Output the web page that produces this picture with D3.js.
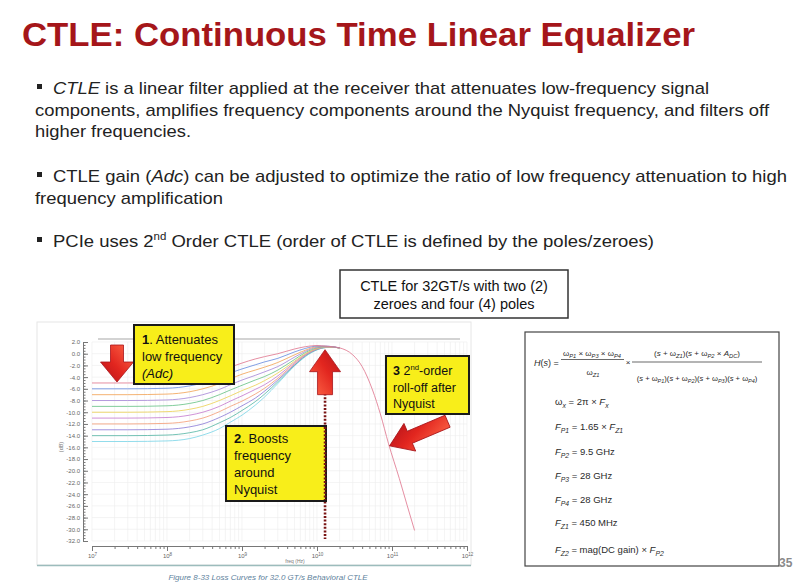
<!DOCTYPE html>
<html>
<head>
<meta charset="utf-8">
<script src="https://cdn.jsdelivr.net/npm/d3@7"></script>
<style>
  body { margin: 0; background: #fff; }
  svg { display: block; font-family: "Liberation Sans", Arial, sans-serif; }
</style>
</head>
<body>
<div id="slide"></div>
<script>
const W = 807, H = 583;

// ---- data ----
const lowFreqHz = [1e7, 3e7, 1e8, 2e8, 3e8, 5e8, 7e8, 1e9, 1.5e9, 2e9, 3e9, 5e9, 7e9, 1e10, 1.3e10, 1.6e10];
const adcLevels = [-5, -6, -7, -8, -9, -10, -11, -12, -13, -14, -15];
const adcM5  = [-5.0, -5.0, -4.9, -4.5, -4.0, -3.1, -2.3, -1.6, -0.9, -0.5, 0.0, 0.8, 1.2, 1.4, 1.3, 1.2];
const adcM6  = [-6.0, -6.0, -5.9, -5.5, -5.0, -4.1, -3.3, -2.6, -1.9, -1.4, -0.8, 0.3, 0.9, 1.3, 1.3, 1.2];
const adcM7  = [-7.0, -7.0, -6.9, -6.5, -6.0, -5.1, -4.3, -3.5, -2.8, -2.3, -1.5, -0.2, 0.6, 1.2, 1.25, 1.15];
const adcM8  = [-8.0, -8.0, -7.9, -7.5, -7.0, -6.1, -5.3, -4.5, -3.7, -3.1, -2.2, -0.6, 0.4, 1.1, 1.2, 1.15];
const adcM9  = [-9.0, -9.0, -8.9, -8.5, -8.0, -7.0, -6.2, -5.4, -4.5, -3.9, -2.8, -1.0, 0.2, 1.0, 1.2, 1.15];
const adcM10 = [-10.0, -10.0, -9.9, -9.5, -9.0, -8.0, -7.2, -6.3, -5.4, -4.6, -3.3, -1.3, 0.0, 0.9, 1.15, 1.1];
const adcM11 = [-11.0, -11.0, -10.9, -10.5, -10.0, -9.0, -8.1, -7.2, -6.1, -5.3, -3.8, -1.5, -0.1, 0.85, 1.1, 1.1];
const adcM12 = [-12.0, -12.0, -11.9, -11.5, -11.0, -9.9, -9.0, -8.1, -6.9, -5.9, -4.2, -1.7, -0.2, 0.8, 1.1, 1.1];
const adcM13 = [-13.0, -13.0, -12.9, -12.5, -12.0, -10.9, -10.0, -8.9, -7.6, -6.4, -4.5, -1.9, -0.3, 0.75, 1.1, 1.1];
const adcM14 = [-14.0, -14.0, -13.9, -13.5, -13.0, -11.8, -10.9, -9.7, -8.2, -6.9, -4.8, -2.0, -0.4, 0.7, 1.05, 1.1];
const adcM15 = [-15.0, -15.0, -14.9, -14.5, -13.9, -12.8, -11.7, -10.5, -8.8, -7.4, -5.1, -2.1, -0.5, 0.65, 1.05, 1.1];
// all curves share the roll-off above the peak
const rolloffHz = [2e10, 3e10, 4e10, 5.5e10, 7e10, 9e10, 1.25e11, 1.6e11, 2e11];
const rolloffDb = [1.0, -0.2, -2.2, -6.2, -10.3, -15.4, -21.3, -26.0, -30.2];
const curveColors = ["#e07a92", "#6b8ee0", "#f2a65a", "#a98bd8", "#6cc48a", "#ecd25a",
                     "#c77fd0", "#f4a07a", "#8f7fd8", "#5cb8a8", "#7fd6e8"];
const yTicks = [2, 0, -2, -4, -6, -8, -10, -12, -14, -16, -18, -20, -22, -24, -26, -28, -30, -32];
const xTicks = [1e7, 1e8, 1e9, 1e10, 1e11, 1e12];
const nyquistHz = 1.28e10;

const lowCurves = [adcM5, adcM6, adcM7, adcM8, adcM9, adcM10, adcM11, adcM12, adcM13, adcM14, adcM15];

const svg = d3.select("#slide").append("svg")
    .attr("width", W).attr("height", H);

// small helper for text with italic / bold / sub / sup runs
// flags: I italic, B bold, _ subscript, ^ superscript
function rich(sel, x, y, parts, size, opts) {
    opts = opts || {};
    const t = sel.append("text")
        .attr("x", x).attr("y", y)
        .attr("font-size", size)
        .attr("fill", opts.fill || "#222")
        .attr("text-anchor", opts.anchor || "start");
    if (opts.family) t.attr("font-family", opts.family);
    let shift = 0;
    parts.forEach(p => {
        const s = typeof p === "string" ? p : p[0];
        const f = typeof p === "string" ? "" : p[1];
        const sp = t.append("tspan").text(s);
        let target = 0;
        if (f.includes("_")) { target = size * 0.28; sp.attr("font-size", size * 0.72); }
        if (f.includes("^")) { target = -size * 0.42; sp.attr("font-size", size * 0.62); }
        if (target !== shift) { sp.attr("dy", target - shift); shift = target; }
        if (f.includes("I")) sp.attr("font-style", "italic");
        if (f.includes("B")) sp.attr("font-weight", "bold");
    });
    if (opts.len) t.attr("textLength", opts.len).attr("lengthAdjust", "spacingAndGlyphs");
    return t;
}

// ---- title and bullets ----
svg.append("text")
    .attr("x", 22).attr("y", 46)
    .attr("font-size", 33).attr("font-weight", "bold")
    .attr("fill", "#a5161a")
    .attr("textLength", 673).attr("lengthAdjust", "spacingAndGlyphs")
    .text("CTLE: Continuous Time Linear Equalizer");

const bodyFont = "'Liberation Sans Narrow', 'Liberation Sans', Arial, sans-serif";
const bullets = svg.append("g");
[94, 182, 247].forEach(by => {
    bullets.append("rect").attr("x", 37).attr("y", by - 10).attr("width", 5).attr("height", 5).attr("fill", "#222");
});
rich(bullets, 53, 94, [["CTLE", "I"], " is a linear filter applied at the receiver that attenuates low-frequency signal"], 17, {family: bodyFont, len: 656});
rich(bullets, 35, 116, ["components, amplifies frequency components around the Nyquist frequency, and filters off"], 17, {family: bodyFont, len: 734});
rich(bullets, 35, 137, ["higher frequencies."], 17, {family: bodyFont, len: 156});
rich(bullets, 53, 182, ["CTLE gain (", ["Adc", "I"], ") can be adjusted to optimize the ratio of low frequency attenuation to high"], 17, {family: bodyFont, len: 734});
rich(bullets, 35, 204, ["frequency amplification"], 17, {family: bodyFont, len: 188});
rich(bullets, 53, 247, ["PCIe uses 2", ["nd", "^"], " Order CTLE (order of CTLE is defined by the poles/zeroes)"], 17, {family: bodyFont, len: 601});

// ---- callout box above the plot ----
svg.append("rect").attr("x", 340).attr("y", 270).attr("width", 228).attr("height", 48)
    .attr("fill", "#fff").attr("stroke", "#333").attr("stroke-width", 1.5);
rich(svg, 454, 291, ["CTLE for 32GT/s with two (2)"], 14.5, {anchor: "middle", fill: "#111"});
rich(svg, 454, 309, ["zeroes and four (4) poles"], 14.5, {anchor: "middle", fill: "#111"});

// ---- plot ----
const x = d3.scaleLog().domain([1e7, 1e12]).range([92, 467]);
const y = d3.scaleLinear().domain([-32, 2]).range([541, 342]);

svg.append("rect").attr("x", 37).attr("y", 322).attr("width", 434).attr("height", 243)
    .attr("fill", "none").attr("stroke", "#e6e6e6");
svg.append("line").attr("x1", 37).attr("x2", 471).attr("y1", 565.5).attr("y2", 565.5)
    .attr("stroke", "#9cbcbc").attr("stroke-width", 1.5);

const grid = svg.append("g").attr("stroke", "#ececec").attr("stroke-width", 0.6);
grid.selectAll(".vg").data(x.ticks()).join("line")
    .attr("x1", d => x(d)).attr("x2", d => x(d))
    .attr("y1", y(2)).attr("y2", y(-32));
grid.selectAll(".hg").data(yTicks).join("line")
    .attr("x1", x(1e7)).attr("x2", x(1e12))
    .attr("y1", d => y(d)).attr("y2", d => y(d));

svg.append("line").attr("x1", 98).attr("x2", 460).attr("y1", 339).attr("y2", 339)
    .attr("stroke", "#c4c4c4").attr("stroke-width", 1.3);

// y axis (ticks point into the plot)
svg.append("g").attr("transform", "translate(83,0)")
    .call(d3.axisLeft(y).tickValues(yTicks).tickSizeInner(-5).tickSizeOuter(0)
        .tickPadding(3).tickFormat(d => d.toFixed(1)));
svg.append("g").attr("transform", "translate(83,0)")
    .call(d3.axisLeft(y).tickValues(d3.range(-32, 2.01, 0.5)).tickSizeInner(-2.5).tickSizeOuter(0).tickFormat(""))
    .select(".domain").remove();

// x axis
const xAxis = svg.append("g").attr("transform", "translate(0,546)")
    .call(d3.axisBottom(x).tickValues(xTicks).tickSizeInner(5).tickSizeOuter(0)
        .tickPadding(3).tickFormat(""));
svg.append("g").attr("transform", "translate(0,546)")
    .call(d3.axisBottom(x).tickValues(x.ticks().filter(d => !xTicks.includes(d))).tickSizeInner(3).tickFormat(""))
    .select(".domain").remove();
xAxis.selectAll(".tick text").each(function(d) {
    const t = d3.select(this);
    t.append("tspan").text("10");
    t.append("tspan").text(Math.round(Math.log10(d))).attr("dy", -2.5).attr("font-size", 4.5);
});

svg.selectAll(".domain, .tick line").attr("stroke", "#777");
svg.selectAll(".tick text").attr("fill", "#666").attr("font-size", 6);

svg.append("text").attr("x", 295).attr("y", 563).attr("font-size", 5).attr("fill", "#777")
    .attr("text-anchor", "middle").text("freq (Hz)");
svg.append("text").attr("transform", "translate(63,447) rotate(-90)").attr("font-size", 5.5)
    .attr("fill", "#777").attr("text-anchor", "middle").text("(dB)");

// curves: lowest gain first so the -5 dB trace sits on top; the shared
// roll-off is drawn once, on the -5 dB trace
const line = d3.line().x(d => x(d[0])).y(d => y(d[1])).curve(d3.curveMonotoneX);
const curveData = lowCurves.map((vals, i) => {
    const tail = i === 0 ? rolloffHz.length : 1;
    return {
        adc: adcLevels[i],
        color: curveColors[i],
        pts: lowFreqHz.map((f, j) => [f, vals[j]])
            .concat(rolloffHz.slice(0, tail).map((f, j) => [f, rolloffDb[j]]))
    };
}).reverse();
svg.append("g").selectAll("path").data(curveData).join("path")
    .attr("d", d => line(d.pts))
    .attr("fill", "none")
    .attr("stroke", d => d.color)
    .attr("stroke-width", 1)
    .attr("stroke-opacity", 0.85);

svg.append("text").attr("x", 268).attr("y", 580).attr("font-size", 8).attr("font-style", "italic")
    .attr("fill", "#5d7f9c").attr("text-anchor", "middle")
    .text("Figure 8-33 Loss Curves for 32.0 GT/s Behavioral CTLE");

// ---- annotations ----
const defs = svg.append("defs");
const grad = defs.append("linearGradient").attr("id", "redGrad")
    .attr("x1", 0).attr("y1", 0).attr("x2", 1).attr("y2", 1);
grad.append("stop").attr("offset", "0%").attr("stop-color", "#ff6a4a");
grad.append("stop").attr("offset", "55%").attr("stop-color", "#e2261f");
grad.append("stop").attr("offset", "100%").attr("stop-color", "#b3121a");

function arrow(tx, ty, angle, len, bodyW, headW, headL) {
    const pts = [[0, 0], [-headL, -headW / 2], [-headL, -bodyW / 2], [-len, -bodyW / 2],
                 [-len, bodyW / 2], [-headL, bodyW / 2], [-headL, headW / 2]];
    svg.append("polygon")
        .attr("points", pts.map(p => p.join(",")).join(" "))
        .attr("transform", `translate(${tx},${ty}) rotate(${angle})`)
        .attr("fill", "url(#redGrad)")
        .attr("stroke", "#a8141a").attr("stroke-width", 0.8);
}

function yellowBox(bx, by, bw, bh) {
    svg.append("rect").attr("x", bx).attr("y", by).attr("width", bw).attr("height", bh)
        .attr("fill", "#f8ee1a").attr("stroke", "#1a1a1a").attr("stroke-width", 2);
}

// Nyquist marker
svg.append("line")
    .attr("x1", x(nyquistHz)).attr("x2", x(nyquistHz))
    .attr("y1", 390).attr("y2", 539)
    .attr("stroke", "#7a1414").attr("stroke-width", 2.6).attr("stroke-dasharray", "2,1.6");

arrow(117, 382, 90, 37, 13, 33, 20);
arrow(x(nyquistHz), y(1.2) + 3, -90, 45, 15, 31, 22);
arrow(x(9e10) + 1, y(-15.4) + 2, 157, 63, 13, 30, 22);

yellowBox(134, 325, 100, 59);
rich(svg, 142, 344, [["1", "B"], ". Attenuates"], 13, {fill: "#111"});
rich(svg, 142, 361, ["low frequency"], 13, {fill: "#111"});
rich(svg, 142, 378, [["(Adc)", "I"]], 13, {fill: "#111"});

yellowBox(226, 426, 100, 75);
rich(svg, 234, 443, [["2", "B"], ". Boosts"], 13, {fill: "#111"});
rich(svg, 234, 460, ["frequency"], 13, {fill: "#111"});
rich(svg, 234, 477, ["around"], 13, {fill: "#111"});
rich(svg, 234, 494, ["Nyquist"], 13, {fill: "#111"});

// the marker shows through the right edge of box 2, as in the slide
svg.append("line")
    .attr("x1", x(nyquistHz)).attr("x2", x(nyquistHz))
    .attr("y1", 427).attr("y2", 500)
    .attr("stroke", "#7a1414").attr("stroke-width", 2.6).attr("stroke-dasharray", "2,1.6");

yellowBox(386, 356, 83, 58);
rich(svg, 393, 375, [["3", "B"], "  2", ["nd", "^"], "-order"], 12.5, {fill: "#111"});
rich(svg, 393, 392, ["roll-off after"], 12.5, {fill: "#111"});
rich(svg, 393, 408, ["Nyquist"], 12.5, {fill: "#111"});

// ---- transfer function panel ----
svg.append("rect").attr("x", 525).attr("y", 332).attr("width", 254).attr("height", 234)
    .attr("fill", "#fff").attr("stroke", "#444").attr("stroke-width", 1.2);
const fx = svg.append("g");
const ink = "#2a2a2a";
rich(fx, 534, 366, [["H", "I"], "(", ["s", "I"], ") ="], 9, {fill: ink});
rich(fx, 592, 356, ["ω", ["P1", "_I"], " × ω", ["P3", "_I"], " × ω", ["P4", "_I"]], 8, {fill: ink, anchor: "middle"});
fx.append("line").attr("x1", 561).attr("x2", 624).attr("y1", 359.5).attr("y2", 359.5).attr("stroke", ink).attr("stroke-width", 0.7);
rich(fx, 593, 375, ["ω", ["Z1", "_I"]], 8, {fill: ink, anchor: "middle"});
rich(fx, 628, 365, ["×"], 8, {fill: ink, anchor: "middle"});
rich(fx, 697, 356, ["(", ["s", "I"], " + ω", ["Z1", "_I"], ")(", ["s", "I"], " + ω", ["P2", "_I"], " × ", ["A", "I"], ["DC", "_I"], ")"], 8, {fill: ink, anchor: "middle"});
fx.append("line").attr("x1", 632).attr("x2", 762).attr("y1", 362).attr("y2", 362).attr("stroke", ink).attr("stroke-width", 0.7);
rich(fx, 697, 381, ["(", ["s", "I"], " + ω", ["P1", "_I"], ")(", ["s", "I"], " + ω", ["P2", "_I"], ")(", ["s", "I"], " + ω", ["P3", "_I"], ")(", ["s", "I"], " + ω", ["P4", "_I"], ")"], 7.6, {fill: ink, anchor: "middle"});

const eqRows = [
    [405, ["ω", ["x", "_I"], " = 2π × ", ["F", "I"], ["x", "_I"]]],
    [430, [["F", "I"], ["P1", "_I"], " = 1.65 × ", ["F", "I"], ["Z1", "_I"]]],
    [455, [["F", "I"], ["P2", "_I"], " = 9.5 GHz"]],
    [479, [["F", "I"], ["P3", "_I"], " = 28 GHz"]],
    [503, [["F", "I"], ["P4", "_I"], " = 28 GHz"]],
    [526, [["F", "I"], ["Z1", "_I"], " = 450 MHz"]],
    [553, [["F", "I"], ["Z2", "_I"], " = mag(DC gain) × ", ["F", "I"], ["P2", "_I"]]]
];
eqRows.forEach(r => rich(fx, 555, r[0], r[1], 9.5, {fill: ink}));

svg.append("text").attr("x", 779).attr("y", 567).attr("font-size", 12).attr("font-weight", "bold")
    .attr("fill", "#8a8a8a").text("35");
</script>
</body>
</html>
